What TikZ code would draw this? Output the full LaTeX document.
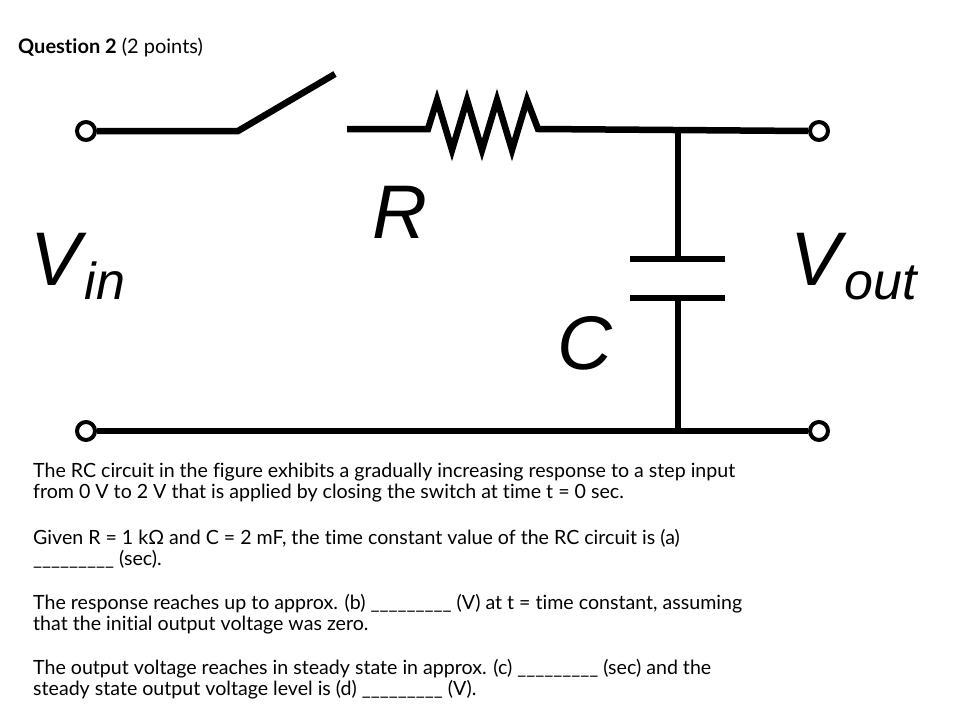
\documentclass[tikz,border=0pt]{standalone}
\usepackage{fontspec}
\setmainfont{Lato}[Ligatures={NoCommon,NoRequired,NoContextual}]
\setsansfont{Liberation Sans}
\begin{document}
\begin{tikzpicture}[x=1pt,y=-1pt,
  wire/.style={line width=6.5pt,line cap=butt},
  term/.style={circle,draw,line width=4pt,minimum size=18pt,inner sep=0pt,fill=white},
  big/.style={font=\sffamily\itshape\fontsize{76}{76}\selectfont},
  txt/.style={anchor=north west,align=left,font=\fontsize{19.6}{21}\selectfont,inner sep=0pt}]
\useasboundingbox (0,0) rectangle (975,720);
\node[anchor=west,inner sep=0pt,font=\fontsize{20}{22}\selectfont] (q) at (18,47) {\textbf{Question 2} (2 points)};
\coordinate (s1) at (238,131);
\coordinate (s2) at (335,74);
\coordinate (s3) at (347,129);
\coordinate (r1) at (428,129);
\coordinate (r2) at (538,129);
\coordinate (j) at (678,129);
\coordinate (p1) at (678,259);
\coordinate (p2) at (678,298);
\coordinate (b) at (678,431);
\node[term] (i1) at (86,131) {};
\node[term] (i2) at (86,431) {};
\node[term] (o1) at (819,131) {};
\node[term] (o2) at (819,431) {};
\draw[wire] (i1.east) -- (s1) -- (s2);
\draw[wire,line join=miter] (s3) -- (r1) -- (437,100) -- (452,150) -- (467,100) -- (482,150) -- (497,100) -- (512,150) -- (527,100) -- (r2) -- (o1.west);
\draw[wire] (j) -- (p1);
\draw[wire] (630,259) -- (725,259);
\draw[wire] (630,298) -- (725,298);
\draw[wire] (p2) -- (b);
\draw[wire] (i2.east) -- (o2.west);
\node[big] (R) at (400,212) {R};
\node[big] (C) at (585,343) {C};
\node[big,anchor=base west,inner sep=0pt] (vin) at (30,285) {V\kern4pt\raisebox{-14pt}{\fontsize{52}{52}\selectfont in}};
\node[big,anchor=base west,inner sep=0pt] (vout) at (790,285) {V\kern4pt\raisebox{-14pt}{\fontsize{52}{52}\selectfont out}};
\node[txt] (t1) at (33,463) {The RC circuit in the figure exhibits a gradually increasing response to a step input\\from 0 V to 2 V that is applied by closing the switch at time t = 0 sec.};
\node[txt] (t2) at (33,529) {Given R = 1 kΩ and C = 2 mF, the time constant value of the RC circuit is (a)\\\_\_\_\_\_\_\_\_\_ (sec).};
\node[txt] (t3) at (33,594) {The response reaches up to approx. (b) \_\_\_\_\_\_\_\_\_ (V) at t = time constant, assuming\\that the initial output voltage was zero.};
\node[txt] (t4) at (33,659) {The output voltage reaches in steady state in approx. (c) \_\_\_\_\_\_\_\_\_ (sec) and the\\steady state output voltage level is (d) \_\_\_\_\_\_\_\_\_ (V).};
\end{tikzpicture}
\end{document}
